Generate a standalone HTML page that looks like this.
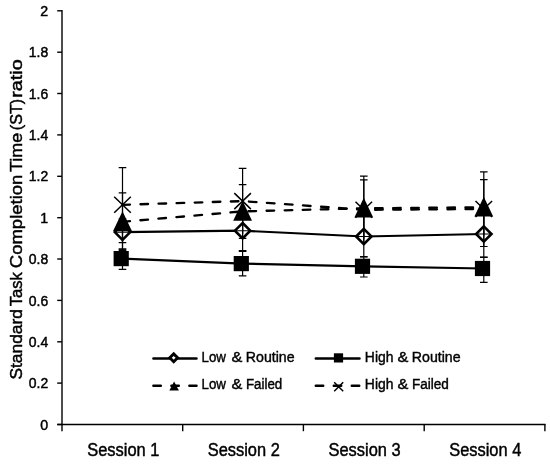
<!DOCTYPE html>
<html><head><meta charset="utf-8"><title>Standard Task Completion Time (ST) ratio</title>
<style>
html,body{margin:0;padding:0;background:#fff;}
body{width:550px;height:465px;overflow:hidden;}
svg{display:block;}
text{font-family:"Liberation Sans",sans-serif;fill:#000;}
.tick{font-size:13.8px;stroke:#000;stroke-width:0.45px;}
.cat{font-size:17.6px;stroke:#000;stroke-width:0.45px;}
.leg{font-size:14.0px;stroke:#000;stroke-width:0.4px;}
.ttl{font-size:17.4px;stroke:#000;stroke-width:0.45px;}
</style></head><body>
<svg width="550" height="465" viewBox="0 0 550 465">
<rect width="550" height="465" fill="#fff"/>

<g stroke="#000" stroke-width="1.4" fill="none">
<path d="M62 10.1V431.2"/>
<path d="M57.2 424.5H545.6"/>
<path d="M57.2 424.5H62"/>
<path d="M57.2 383.1H62"/>
<path d="M57.2 341.8H62"/>
<path d="M57.2 300.4H62"/>
<path d="M57.2 259.0H62"/>
<path d="M57.2 217.7H62"/>
<path d="M57.2 176.3H62"/>
<path d="M57.2 134.9H62"/>
<path d="M57.2 93.5H62"/>
<path d="M57.2 52.2H62"/>
<path d="M57.2 10.8H62"/>
<path d="M182.7 424.5V431.2"/>
<path d="M303.4 424.5V431.2"/>
<path d="M424.2 424.5V431.2"/>
<path d="M544.9 424.5V431.2"/>
</g>
<g class="tick" text-anchor="end">
<text x="48.2" y="429.6" textLength="7.9" lengthAdjust="spacingAndGlyphs">0</text>
<text x="48.2" y="388.2" textLength="19.4" lengthAdjust="spacingAndGlyphs">0.2</text>
<text x="48.2" y="346.9" textLength="19.4" lengthAdjust="spacingAndGlyphs">0.4</text>
<text x="48.2" y="305.5" textLength="19.4" lengthAdjust="spacingAndGlyphs">0.6</text>
<text x="48.2" y="264.1" textLength="19.4" lengthAdjust="spacingAndGlyphs">0.8</text>
<text x="48.2" y="222.8" textLength="7.9" lengthAdjust="spacingAndGlyphs">1</text>
<text x="48.2" y="181.4" textLength="19.4" lengthAdjust="spacingAndGlyphs">1.2</text>
<text x="48.2" y="140.0" textLength="19.4" lengthAdjust="spacingAndGlyphs">1.4</text>
<text x="48.2" y="98.6" textLength="19.4" lengthAdjust="spacingAndGlyphs">1.6</text>
<text x="48.2" y="57.3" textLength="19.4" lengthAdjust="spacingAndGlyphs">1.8</text>
<text x="48.2" y="15.9" textLength="7.9" lengthAdjust="spacingAndGlyphs">2</text>
</g>
<g class="cat">
<text x="87.16" y="455.5" textLength="72.24" lengthAdjust="spacingAndGlyphs">Session 1</text>
<text x="207.76" y="455.5" textLength="72.06" lengthAdjust="spacingAndGlyphs">Session 2</text>
<text x="328.56" y="455.5" textLength="72.05" lengthAdjust="spacingAndGlyphs">Session 3</text>
<text x="449.26" y="455.5" textLength="72.02" lengthAdjust="spacingAndGlyphs">Session 4</text>
</g>
<g class="ttl" transform="translate(22.3 378.8) rotate(-90)">
<text x="-0.78" y="0" textLength="70.50" lengthAdjust="spacingAndGlyphs">Standard</text>
<text x="72.54" y="0" textLength="34.04" lengthAdjust="spacingAndGlyphs">Task</text>
<text x="110.57" y="0" textLength="93.63" lengthAdjust="spacingAndGlyphs">Completion</text>
<text x="206.91" y="0" textLength="39.08" lengthAdjust="spacingAndGlyphs">Time</text>
<text x="248.60" y="0" textLength="31.29" lengthAdjust="spacingAndGlyphs">(ST)</text>
<text x="281.10" y="0" textLength="38.43" lengthAdjust="spacingAndGlyphs">ratio</text>
</g>
<polyline points="122.5,232.1 242.6,230.7 363.8,236.5 483.8,234.0" fill="none" stroke="#000" stroke-width="2.2" stroke-linejoin="round"/>
<g stroke="#000" stroke-width="1.2" fill="none">
<path d="M122.5 218.9V249.1M118.7 218.9H126.3M118.7 249.1H126.3"/>
<path d="M242.6 210.6V250.7M238.8 210.6H246.4M238.8 250.7H246.4"/>
<path d="M363.8 216.2V256.7M360.0 216.2H367.6M360.0 256.7H367.6"/>
<path d="M483.8 210.6V257.4M480.0 210.6H487.6M480.0 257.4H487.6"/>
</g>
<path d="M122.5 224.4L130.2 232.1L122.5 239.8L114.8 232.1Z" fill="#fff" stroke="#000" stroke-width="2.6"/>
<path d="M122.5 224.4V239.8M114.8 232.1H130.2" stroke="#000" stroke-width="1.1"/>
<path d="M242.6 223.0L250.29999999999998 230.7L242.6 238.4L234.9 230.7Z" fill="#fff" stroke="#000" stroke-width="2.6"/>
<path d="M242.6 223.0V238.4M234.9 230.7H250.29999999999998" stroke="#000" stroke-width="1.1"/>
<path d="M363.8 228.8L371.5 236.5L363.8 244.2L356.1 236.5Z" fill="#fff" stroke="#000" stroke-width="2.6"/>
<path d="M363.8 228.8V244.2M356.1 236.5H371.5" stroke="#000" stroke-width="1.1"/>
<path d="M483.8 226.3L491.5 234.0L483.8 241.7L476.1 234.0Z" fill="#fff" stroke="#000" stroke-width="2.6"/>
<path d="M483.8 226.3V241.7M476.1 234.0H491.5" stroke="#000" stroke-width="1.1"/>
<polyline points="122.5,258.6 242.6,263.6 363.8,266.3 483.8,268.5" fill="none" stroke="#000" stroke-width="2.2" stroke-linejoin="round"/>
<g stroke="#000" stroke-width="1.2" fill="none">
<path d="M122.5 249.1V269.4M118.7 249.1H126.3M118.7 269.4H126.3"/>
<path d="M242.6 251.4V275.8M238.8 251.4H246.4M238.8 275.8H246.4"/>
<path d="M363.8 257.0V277.0M360.0 257.0H367.6M360.0 277.0H367.6"/>
<path d="M483.8 257.2V282.3M480.0 257.2H487.6M480.0 282.3H487.6"/>
</g>
<rect x="113.6" y="251.0" width="15.2" height="15.2" fill="#000"/>
<rect x="233.7" y="256.0" width="15.2" height="15.2" fill="#000"/>
<rect x="354.9" y="258.7" width="15.2" height="15.2" fill="#000"/>
<rect x="474.9" y="260.9" width="15.2" height="15.2" fill="#000"/>
<polyline points="122.5,221.8 242.6,211.4 363.8,208.3 483.8,207.3" fill="none" stroke="#000" stroke-width="2.35" stroke-linecap="round" stroke-linejoin="round" stroke-dasharray="7.6 10.48" stroke-dashoffset="0.1"/>
<g stroke="#000" stroke-width="1.2" fill="none">
<path d="M122.5 192.8V250.7M118.7 192.8H126.3M118.7 250.7H126.3"/>
<path d="M242.6 184.6V238.3M238.8 184.6H246.4M238.8 238.3H246.4"/>
<path d="M363.8 179.9V238.5M360.0 179.9H367.6"/>
<path d="M483.8 179.7V235.4M480.0 179.7H487.6"/>
</g>
<path d="M122.5 211.2L131.9 231.1H113.1Z" fill="#000"/>
<path d="M242.6 200.8L252.0 220.7H233.2Z" fill="#000"/>
<path d="M363.8 197.7L373.2 217.6H354.4Z" fill="#000"/>
<path d="M483.8 196.7L493.2 216.6H474.4Z" fill="#000"/>
<polyline points="122.5,204.8 242.6,201.1 363.8,209.8 483.8,209.0" fill="none" stroke="#000" stroke-width="2.35" stroke-linecap="round" stroke-linejoin="round" stroke-dasharray="7.6 10.48" stroke-dashoffset="0.1"/>
<g stroke="#000" stroke-width="1.2" fill="none">
<path d="M122.5 167.6V242.7M118.7 167.6H126.3M118.7 242.7H126.3"/>
<path d="M242.6 168.4V233.8M238.8 168.4H246.4"/>
<path d="M363.8 176.1V242.9M360.0 176.1H367.6"/>
<path d="M483.8 171.8V246.5M480.0 171.8H487.6M480.0 246.5H487.6"/>
</g>
<path d="M114.2 196.8L130.8 212.8M130.8 196.8L114.2 212.8" stroke="#000" stroke-width="1.5" fill="none"/>
<path d="M234.3 193.1L250.9 209.1M250.9 193.1L234.3 209.1" stroke="#000" stroke-width="1.5" fill="none"/>
<path d="M355.5 201.8L372.1 217.8M372.1 201.8L355.5 217.8" stroke="#000" stroke-width="1.5" fill="none"/>
<path d="M475.5 201.0L492.1 217.0M492.1 201.0L475.5 217.0" stroke="#000" stroke-width="1.5" fill="none"/>
<g stroke="#000" stroke-width="2.5" fill="none" stroke-linecap="round">
<path d="M153.4 358.6H196.5M315.8 358.6H359.5"/>
<path d="M153.4 385.8H196.5M315.8 385.8H359.5" stroke-dasharray="7.4 10.6"/>
</g>
<path d="M173.7 353.9L177.6 357.8L173.7 361.7L169.8 357.8Z" fill="#fff" stroke="#000" stroke-width="2.9" stroke-linejoin="miter"/>
<rect x="333.9" y="353.3" width="9.2" height="9.2" fill="#000"/>
<path d="M174.1 381.5L178.9 390.6H169.4Z" fill="#000"/>
<path d="M334.2 382.2L343.2 391.2M343.2 382.2L334.2 391.2" stroke="#000" stroke-width="1.5" fill="none"/>
<g class="leg">
<text x="201.51" y="362.3" textLength="24.45" lengthAdjust="spacingAndGlyphs">Low</text>
<text x="231.43" y="362.3" textLength="10.82" lengthAdjust="spacingAndGlyphs">&amp;</text>
<text x="245.84" y="362.3" textLength="48.79" lengthAdjust="spacingAndGlyphs">Routine</text>
<text x="201.51" y="389.1" textLength="24.45" lengthAdjust="spacingAndGlyphs">Low</text>
<text x="231.43" y="389.1" textLength="10.82" lengthAdjust="spacingAndGlyphs">&amp;</text>
<text x="245.91" y="389.1" textLength="36.35" lengthAdjust="spacingAndGlyphs">Failed</text>
<text x="364.86" y="362.3" textLength="28.64" lengthAdjust="spacingAndGlyphs">High</text>
<text x="397.43" y="362.3" textLength="10.82" lengthAdjust="spacingAndGlyphs">&amp;</text>
<text x="411.84" y="362.3" textLength="48.79" lengthAdjust="spacingAndGlyphs">Routine</text>
<text x="364.86" y="389.1" textLength="28.64" lengthAdjust="spacingAndGlyphs">High</text>
<text x="397.43" y="389.1" textLength="10.82" lengthAdjust="spacingAndGlyphs">&amp;</text>
<text x="411.89" y="389.1" textLength="36.98" lengthAdjust="spacingAndGlyphs">Failed</text>
</g>
</svg></body></html>
